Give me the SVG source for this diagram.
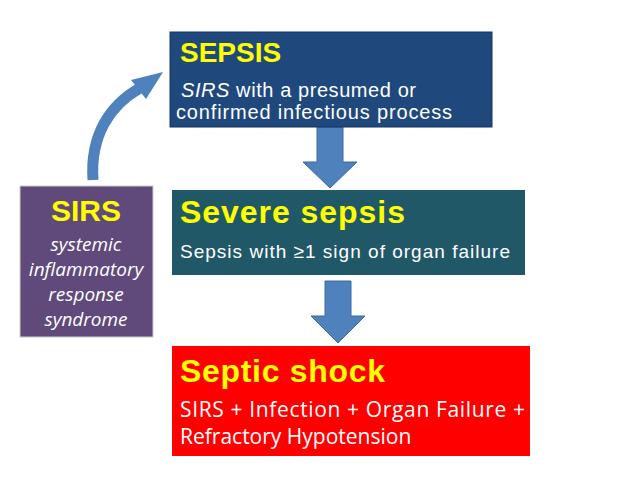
<svg xmlns="http://www.w3.org/2000/svg" width="638" height="479" viewBox="0 0 638 479">
<style>
.t{font-family:"Liberation Sans",Arial,sans-serif;font-weight:bold;fill:#ffff00}
.b{font-family:"Liberation Sans",Arial,sans-serif;fill:#fff}
.c{font-family:"Open Sans","Liberation Sans",sans-serif;fill:#fff}
.ar{fill:#4f81bd;stroke:#3a6aa0;stroke-width:1}
</style>
<rect width="638" height="479" fill="#fff"/>
<g id="connectors">
<path class="ar" d="M317,127 H343 V162 H357 L330,188 L303,162 H317 Z"/>
<path class="ar" d="M325,281 H351 V316 H365 L338,343 L311,316 H325 Z"/>
<path d="M93,180 C90,135 110,105 140,88" fill="none" stroke="#4f81bd" stroke-width="11"/>
<path d="M163,72 L131,80 L146,99 Z" fill="#4f81bd"/>
</g>
<g id="sepsis">
<rect x="170" y="32" width="322" height="95" fill="#1f497d" stroke="#17375e"/>
<text class="t" x="180" y="62" font-size="28">SEPSIS</text>
<text class="b" x="181" y="97" font-size="20" textLength="235"><tspan font-style="italic">SIRS</tspan> with a presumed or</text>
<text class="b" x="176" y="119" font-size="20" textLength="276">confirmed infectious process</text>
</g>
<g id="severe">
<rect x="172" y="190" width="353" height="85" fill="#215868"/>
<text class="t" x="180" y="223" font-size="32" textLength="225">Severe sepsis</text>
<text class="b" x="180" y="258" font-size="19" textLength="330">Sepsis with ≥1 sign of organ failure</text>
</g>
<g id="shock">
<rect x="172" y="346" width="358" height="110" fill="#ff0000"/>
<text class="t" x="180" y="382" font-size="32" textLength="205">Septic shock</text>
<text class="c" x="180" y="417" font-size="21" textLength="345">SIRS + Infection + Organ Failure +</text>
<text class="c" x="180" y="444" font-size="21">Refractory Hypotension</text>
</g>
<g id="sirs">
<rect x="20" y="186" width="133" height="151" fill="#604a7b" stroke="#ccc"/>
<text class="t" x="86" y="221" font-size="30" text-anchor="middle">SIRS</text>
<g class="c" font-size="19" font-style="italic" text-anchor="middle">
<text x="86" y="251">systemic</text>
<text x="86" y="276">inflammatory</text>
<text x="86" y="301">response</text>
<text x="86" y="326">syndrome</text>
</g>
</g>
</svg>
